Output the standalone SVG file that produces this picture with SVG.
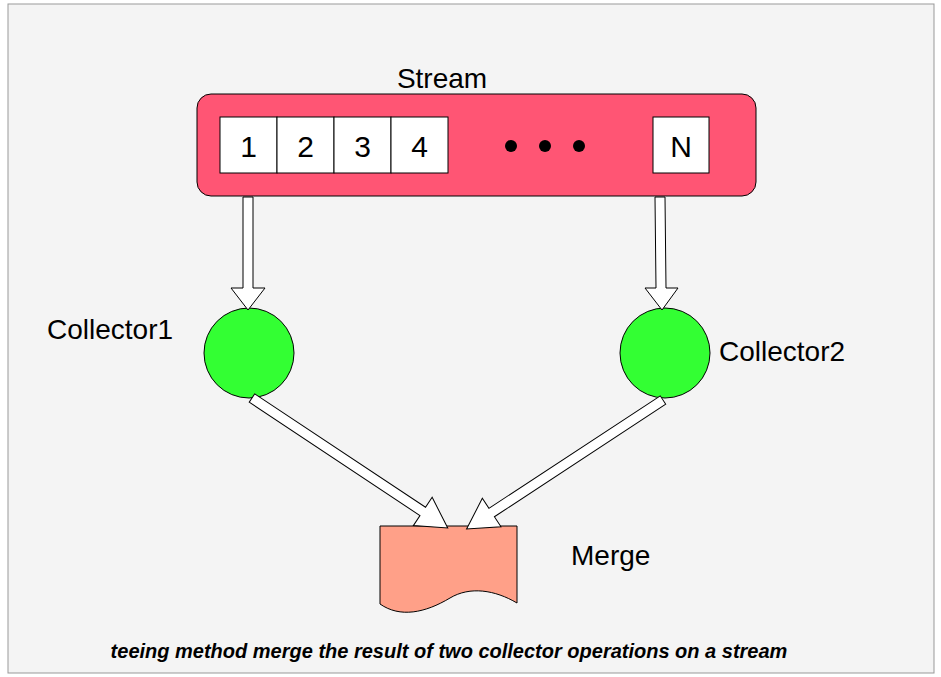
<svg xmlns="http://www.w3.org/2000/svg" width="941" height="677" viewBox="0 0 941 677">
<style>
.t{font-family:"Liberation Sans",Arial,sans-serif;fill:#000}
.cell{fill:#fff;stroke:#000;stroke-width:1}
.arr{fill:#fff;stroke:#000;stroke-width:1}
.circ{fill:#33ff33;stroke:#000;stroke-width:1}
</style>
<rect x="0" y="0" width="941" height="677" fill="#fff"/>
<rect x="8" y="4" width="926" height="669" fill="#f4f4f4" stroke="#999" stroke-width="1"/>
<g id="stream">
<rect x="197" y="94" width="559" height="102" rx="14" fill="#ff5574" stroke="#000" stroke-width="1"/>
<rect class="cell" x="220" y="117" width="57" height="56"/>
<rect class="cell" x="277" y="117" width="57" height="56"/>
<rect class="cell" x="334" y="117" width="57" height="56"/>
<rect class="cell" x="391" y="117" width="57" height="56"/>
<rect class="cell" x="653" y="117" width="56" height="56"/>
<g class="t" font-size="30" text-anchor="middle">
<text x="248.5" y="157">1</text><text x="305.5" y="157">2</text><text x="362.5" y="157">3</text><text x="419.5" y="157">4</text><text x="681" y="157">N</text>
</g>
<circle cx="511" cy="146" r="6"/><circle cx="545" cy="146" r="6"/><circle cx="579" cy="146" r="6"/>
<text class="t" x="442" y="88" font-size="28" text-anchor="middle">Stream</text>
</g>
<g id="collector1">
<circle class="circ" cx="249" cy="353" r="45"/>
<text class="t" x="47" y="339" font-size="28">Collector1</text>
</g>
<g id="collector2">
<circle class="circ" cx="665" cy="353" r="45"/>
<text class="t" x="719" y="361" font-size="28">Collector2</text>
</g>
<g id="merge">
<path d="M380,526 H517 V603 C495,590 470,586 450,598 C425,613 400,618 380,604 Z" fill="#ffa088" stroke="#000" stroke-width="1"/>
<text class="t" x="571" y="565" font-size="28">Merge</text>
</g>
<g id="connectors">
<polygon class="arr" points="243,197 253,197 253,288 265,288 248,310 231,288 243,288"/>
<polygon class="arr" points="655,197 665,197 666,288 678,288 662,310 645,288 656,288"/>
<polygon class="arr" transform="translate(252,398) rotate(33.6)" points="0,-5 0,5 205,5 205,17 235,0 205,-17 205,-5"/>
<polygon class="arr" transform="translate(663,400) rotate(146.7)" points="0,-5 0,5 205,5 205,17 235,0 205,-17 205,-5"/>
</g>
<text class="t" x="449" y="658" font-size="20" font-weight="bold" font-style="italic" text-anchor="middle">teeing method merge the result of two collector operations on a stream</text>
</svg>
